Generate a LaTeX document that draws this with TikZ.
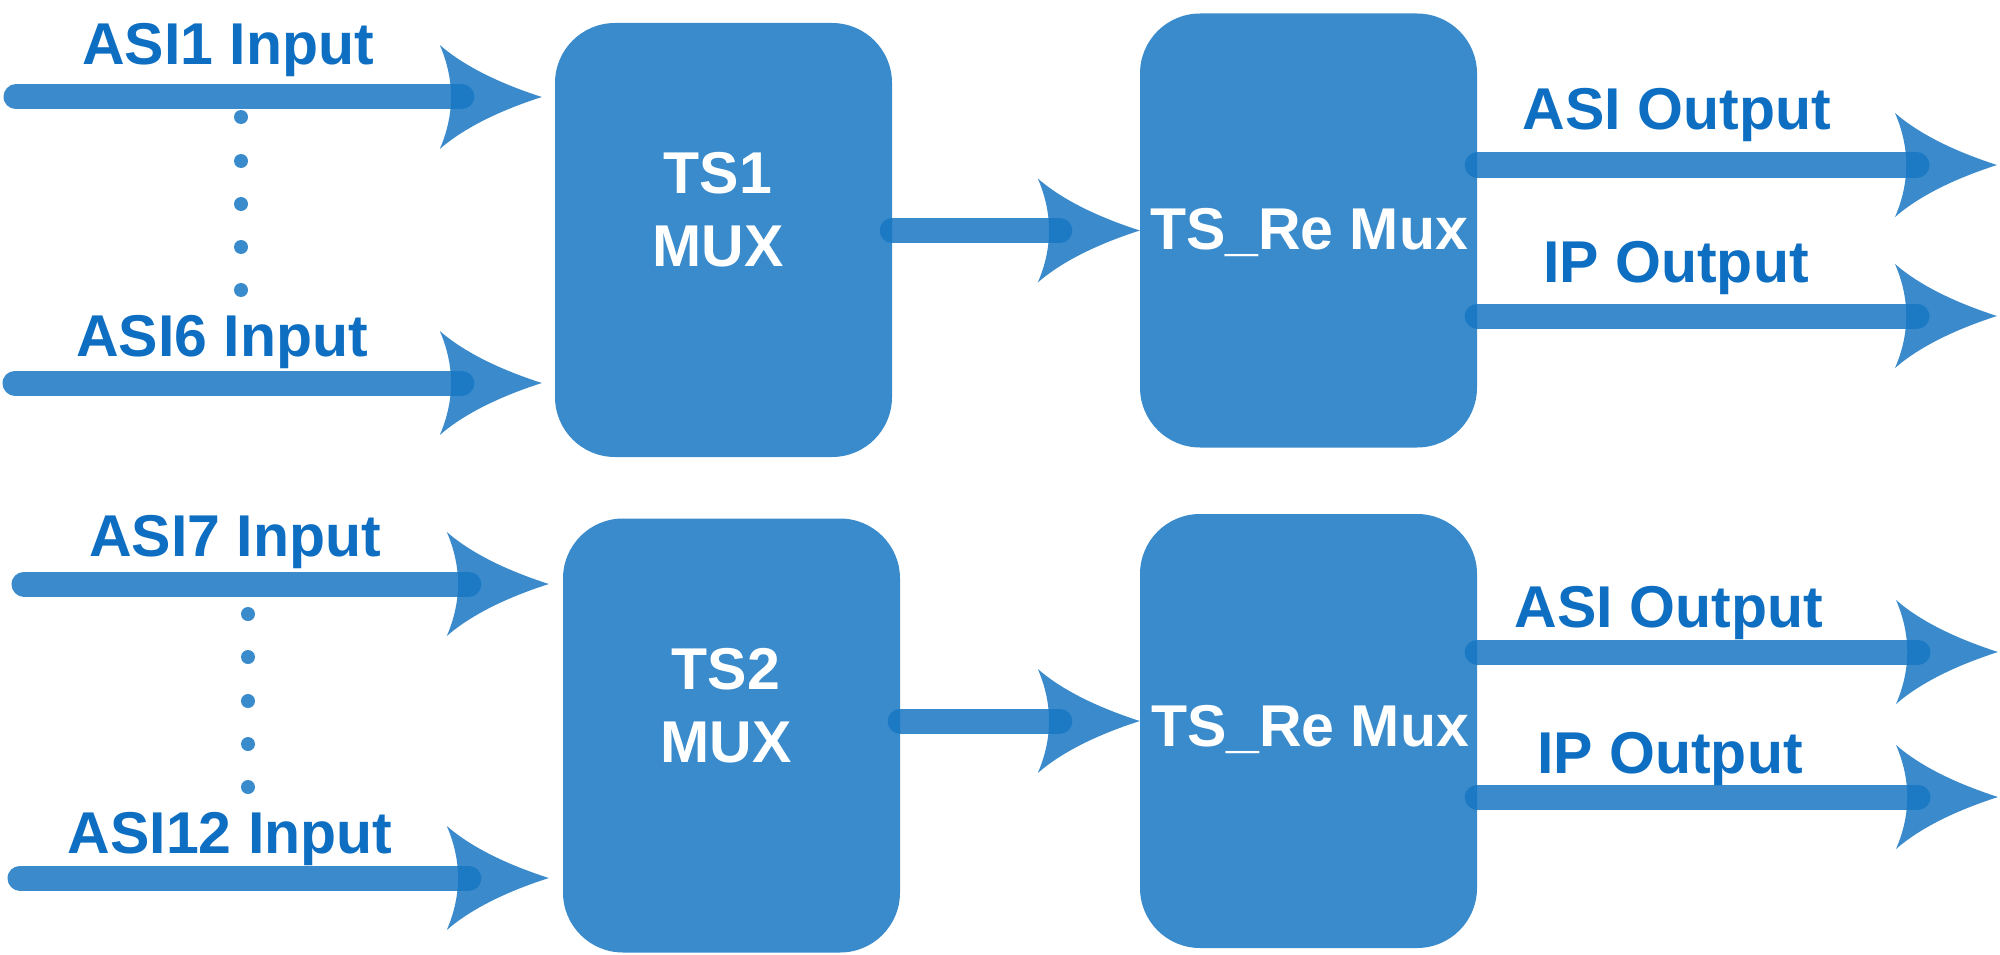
\documentclass[tikz,border=0pt]{standalone}
\usepackage{fontspec}
\setmainfont{Liberation Sans}
\usetikzlibrary{arrows.meta}

\definecolor{boxblue}{RGB}{58,139,203}
\definecolor{lineblue}{RGB}{23,118,195}
\definecolor{textblue}{RGB}{14,110,193}

% concave arrow head, the line runs on into it
\pgfdeclarearrow{
  name = Swoop,
  setup code = {
    \pgfarrowssettipend{0pt}
    \pgfarrowssetlineend{-80pt}
    \pgfarrowssetbackend{-102pt}
    \pgfarrowssetvisualbackend{-102pt}
    \pgfarrowshullpoint{0pt}{0pt}
    \pgfarrowshullpoint{-102pt}{52pt}
    \pgfarrowshullpoint{-102pt}{-52pt}
  },
  drawing code = {
    \pgfpathmoveto{\pgfpointorigin}
    \pgfpathcurveto{\pgfpoint{-45pt}{14.5pt}}{\pgfpoint{-79pt}{32pt}}{\pgfpoint{-102pt}{52pt}}
    \pgfpathcurveto{\pgfpoint{-87pt}{17.3pt}}{\pgfpoint{-87pt}{-17.3pt}}{\pgfpoint{-102pt}{-52pt}}
    \pgfpathcurveto{\pgfpoint{-79pt}{-32pt}}{\pgfpoint{-45pt}{-14.5pt}}{\pgfpointorigin}
    \pgfpathclose
    \pgfusepathqfill
  }
}

\begin{document}
\begin{tikzpicture}
[x=1pt,y=-1pt,%
  mux/.style={rectangle,rounded corners=60pt,fill=boxblue,inner sep=0pt,%
    minimum width=337pt,minimum height=434pt},%
  muxtext/.style={text=white,inner sep=0pt,align=center,%
    font=\fontsize{59}{73}\selectfont\bfseries},%
  lbl/.style={text=textblue,inner sep=0pt,anchor=base,%
    font=\fontsize{59}{73}\selectfont\bfseries},%
  flow/.style={-Swoop,lineblue,line width=25pt,line cap=round,opacity=0.85}]
\useasboundingbox (0,0) rectangle (2000,955);

% boxes
\node[mux] (ts1) at (723.5,240) {};
\node[mux] (ts2) at (731.5,735.5) {};
\node[mux] (re1) at (1308.5,230.5) {};
\node[mux] (re2) at (1308.5,731) {};
\node[muxtext] (ts1t) at (718,210) {TS1\\MUX};
\node[muxtext] (ts2t) at (726,706) {TS2\\MUX};
\node[muxtext,anchor=base] (re1t) at (1309,249) {TS\_Re Mux};
\node[muxtext,anchor=base] (re2t) at (1310,746) {TS\_Re Mux};

% labels
\node[lbl] (l1) at (228,65) {ASI1 Input};
\node[lbl] (l6) at (222,356) {ASI6 Input};
\node[lbl] (l7) at (235,556) {ASI7 Input};
\node[lbl] (l12) at (230,853) {ASI12 Input};
\node[lbl] (o1t) at (1677,130) {ASI Output};
\node[lbl] (o2t) at (1676,282) {IP Output};
\node[lbl] (o3t) at (1669,627) {ASI Output};
\node[lbl] (o4t) at (1670,773) {IP Output};

% dots between inputs
\foreach \y in {117,161,204,247,290}
  \fill[boxblue] (241,\y) circle (7pt);
\foreach \y in {614,657,701,744,787}
  \fill[boxblue] (248,\y) circle (7pt);

% free ends
\coordinate (in1) at (16,97);
\coordinate (in6) at (15,383);
\coordinate (in7) at (24,584);
\coordinate (in12) at (20,878);
\coordinate (mid2) at (1000,721);
\coordinate (o1) at (1997,165);
\coordinate (o2) at (1997,316);
\coordinate (o3) at (1998,652);
\coordinate (o4) at (1998,797);

\path
(in1) edge[flow,shorten >=13pt] (ts1.west |- in1)
(in6) edge[flow,shorten >=13pt] (ts1.west |- in6)
(in7) edge[flow,shorten >=14pt] (ts2.west |- in7)
(in12) edge[flow,shorten >=14pt] (ts2.west |- in12)
(ts1.east |- re1) edge[flow] (re1.west)
(ts2.east |- mid2) edge[flow] (re2.west |- mid2)
(re1.east |- o1) edge[flow] (o1)
(re1.east |- o2) edge[flow] (o2)
(re2.east |- o3) edge[flow] (o3)
(re2.east |- o4) edge[flow] (o4);
\end{tikzpicture}
\end{document}
